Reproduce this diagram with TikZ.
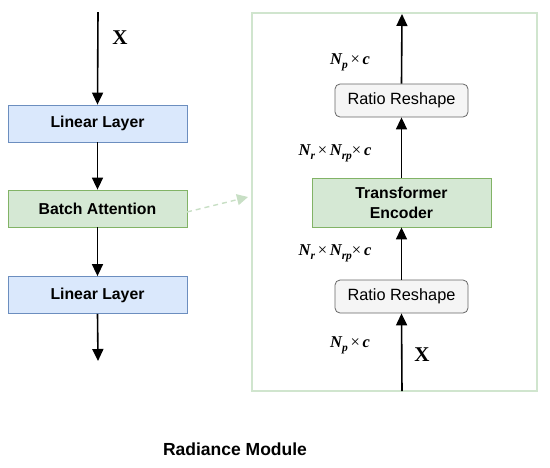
\documentclass[tikz,border=0pt]{standalone}
\usepackage{fontspec}
\setmainfont{Liberation Serif}
\setsansfont{Liberation Sans}
\usetikzlibrary{arrows.meta}
\definecolor{bluefill}{HTML}{DAE8FC}
\definecolor{blueline}{HTML}{6C8EBF}
\definecolor{greenfill}{HTML}{D5E8D4}
\definecolor{greenline}{HTML}{82B366}
\definecolor{grayfill}{HTML}{F5F5F5}
\definecolor{grayline}{HTML}{666666}
\definecolor{panelline}{HTML}{D0E5CE}
\definecolor{dashgreen}{HTML}{C8DFC5}
\newcommand{\lowsub}[1]{\raisebox{-4pt}{\fontsize{11.5}{11.5}\selectfont #1}}
\newcommand{\timessym}{{\upshape\mdseries\,×\,}}
\tikzset{
  bluebox/.style={draw=blueline, fill=bluefill, line width=0.8pt, minimum width=179pt, minimum height=37pt, inner sep=0pt, font=\sffamily\bfseries\fontsize{15.8}{18.5}\selectfont},
  greenbox/.style={draw=greenline, fill=greenfill, line width=0.8pt, inner sep=0pt, font=\sffamily\bfseries\fontsize{15.8}{20}\selectfont, align=center},
  graybox/.style={draw=grayline, fill=grayfill, line width=0.8pt, rounded corners=5pt, minimum width=133pt, minimum height=33pt, inner sep=0pt, font=\sffamily\fontsize{16.3}{19}\selectfont},
  flow/.style={-{Triangle[length=12pt,width=11pt]}, line width=1.6pt, black},
  mlab/.style={font=\bfseries\itshape\fontsize{16.5}{18}\selectfont, inner sep=0pt},
  xlab/.style={font=\bfseries\fontsize{21}{23}\selectfont, inner sep=0pt},
}
\begin{document}
\begin{tikzpicture}[x=1pt,y=-1pt]
\useasboundingbox (0,0) rectangle (550,467);
% left column
\coordinate (ltop) at (98,12);
\node[bluebox] (lin1) at (97.5,123.5) {Linear Layer};
\node[greenbox, minimum width=179pt, minimum height=37pt] (batt) at (97.5,208.5) {Batch Attention};
\node[bluebox] (lin2) at (97.5,295) {Linear Layer};
\coordinate (lbot) at (98,361);
\draw[flow] (ltop) -- (lin1.north);
\draw[flow] (lin1.south) -- (batt.north);
\draw[flow] (batt.south) -- (lin2.north);
\draw[flow] (lin2.south) -- (lbot);
\node[xlab] (x1) at (120,38) {X};
% right panel
\node[draw=panelline, line width=1.2pt, minimum width=285pt, minimum height=378pt, inner sep=0pt] (panel) at (394.5,202) {};
\coordinate (dashstart) at (187,212);
\coordinate (dashend) at (248,197);
\draw[dashgreen, line width=1.4pt, dash pattern=on 5pt off 4pt, -{Triangle[length=11pt,width=11pt]}] (dashstart) -- (dashend);
\node[graybox] (rr1) at (401.5,100.5) {Ratio Reshape};
\node[greenbox, minimum width=179pt, minimum height=49pt] (tenc) at (401.5,202.5) {Transformer\\Encoder};
\node[graybox] (rr2) at (401.5,296.5) {Ratio Reshape};
\coordinate (rtop) at (402,14);
\coordinate (rbot) at (402,391);
\draw[flow] (rr1.north) -- (rtop);
\draw[flow] (tenc.north) -- (rr1.south);
\draw[flow] (rr2.north) -- (tenc.south);
\draw[flow] (rbot) -- (rr2.south);
\node[mlab] (l1) at (350,62) {N\lowsub{p}\timessym c};
\node[mlab] (l2) at (335,153) {N\lowsub{r}\timessym N\lowsub{rp}{\upshape\mdseries ×}\,c};
\node[mlab] (l3) at (335,253) {N\lowsub{r}\timessym N\lowsub{rp}{\upshape\mdseries ×}\,c};
\node[mlab] (l4) at (350,345) {N\lowsub{p}\timessym c};
\node[xlab] (x2) at (422,355) {X};
% title
\node[font=\sffamily\bfseries\fontsize{17.5}{20}\selectfont, inner sep=0pt] (title) at (235,449) {Radiance Module};
\end{tikzpicture}
\end{document}
